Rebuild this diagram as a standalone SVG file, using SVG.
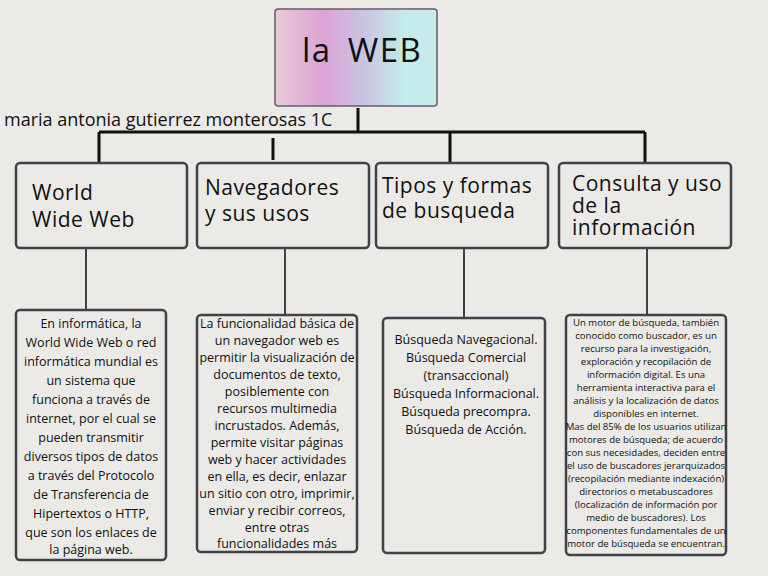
<svg xmlns="http://www.w3.org/2000/svg" width="768" height="576" viewBox="0 0 768 576">
<style>
.box{fill:#ebeae6;stroke:#3f4248;stroke-width:2.5}
.h{font-family:"Open Sans",sans-serif;font-size:21px;fill:#111;letter-spacing:0.5px}
.t{font-family:"Open Sans",sans-serif;font-size:12.5px;fill:#111;text-anchor:middle}
.s{font-family:"Open Sans",sans-serif;font-size:9.6px;fill:#111;text-anchor:middle}
.c{stroke:#111;stroke-width:3;fill:none}
.l{stroke:#3f4248;stroke-width:2;fill:none}
</style>
<defs>
<linearGradient id="g" x1="0" y1="0" x2="1" y2="0">
<stop offset="0" stop-color="#e6cbd8"/><stop offset="0.3" stop-color="#dda3d6"/><stop offset="0.55" stop-color="#c9c4e2"/><stop offset="0.8" stop-color="#c4ecea"/><stop offset="1" stop-color="#c6ecea"/>
</linearGradient>
</defs>
<rect width="768" height="576" fill="#ebeae6"/>
<g id="connectors">
<path class="c" d="M358 108V132M99 132H645M99 132V162M273 138V160M450 132V162M645 132V162"/>
<path class="l" d="M86 249V310M285 249V315M464 249V318M647 249V315"/>
</g>
<g id="title"><rect x="275" y="9" width="162" height="97" rx="3" fill="url(#g)" stroke="#6a5a6e" stroke-width="1.5"/>
<text x="302" y="62" font-family="Open Sans,sans-serif" font-size="33" fill="#111" letter-spacing="1.5" word-spacing="6">la WEB</text></g>
<g id="author"><text x="4" y="126" font-family="Open Sans,sans-serif" font-size="18" fill="#111">maria antonia gutierrez monterosas 1C</text></g>
<g id="n1"><rect class="box" x="16" y="163" width="171" height="85" rx="4"/><text class="h" x="32" y="200">World</text><text class="h" x="32" y="227">Wide Web</text></g>
<g id="n2"><rect class="box" x="197" y="163" width="172" height="85" rx="4"/><text class="h" x="205" y="195">Navegadores</text><text class="h" x="205" y="221">y sus usos</text></g>
<g id="n3"><rect class="box" x="376" y="163" width="172" height="85" rx="4"/><text class="h" x="382" y="193" font-size="18">Tipos y formas</text><text class="h" x="382" y="218" font-size="18">de busqueda</text></g>
<g id="n4"><rect class="box" x="559" y="163" width="172" height="85" rx="4"/><text class="h" x="572" y="191" font-size="16.5">Consulta y uso</text><text class="h" x="572" y="213" font-size="16.5">de la</text><text class="h" x="572" y="235" font-size="16.5">información</text></g>
<g id="d1"><rect class="box" x="16" y="310" width="150" height="250" rx="4"/>
<text class="t" x="91"><tspan x="91" y="328">En informática, la</tspan><tspan x="91" y="347">World Wide Web o red</tspan><tspan x="91" y="366">informática mundial es</tspan><tspan x="91" y="385">un sistema que</tspan><tspan x="91" y="404">funciona a través de</tspan><tspan x="91" y="423">internet, por el cual se</tspan><tspan x="91" y="442">pueden transmitir</tspan><tspan x="91" y="461">diversos tipos de datos</tspan><tspan x="91" y="480">a través del Protocolo</tspan><tspan x="91" y="499">de Transferencia de</tspan><tspan x="91" y="518">Hipertextos o HTTP,</tspan><tspan x="91" y="537">que son los enlaces de</tspan><tspan x="91" y="554">la página web.</tspan></text></g>
<g id="d2"><rect class="box" x="197" y="315" width="160" height="237" rx="4"/>
<text class="t" font-size="11.5"><tspan x="277" y="328">La funcionalidad básica de</tspan><tspan x="277" y="345">un navegador web es</tspan><tspan x="277" y="362">permitir la visualización de</tspan><tspan x="277" y="379">documentos de texto,</tspan><tspan x="277" y="396">posiblemente con</tspan><tspan x="277" y="413">recursos multimedia</tspan><tspan x="277" y="430">incrustados. Además,</tspan><tspan x="277" y="447">permite visitar páginas</tspan><tspan x="277" y="464">web y hacer actividades</tspan><tspan x="277" y="481">en ella, es decir, enlazar</tspan><tspan x="277" y="498">un sitio con otro, imprimir,</tspan><tspan x="277" y="515">enviar y recibir correos,</tspan><tspan x="277" y="532">entre otras</tspan><tspan x="277" y="548">funcionalidades más</tspan></text></g>
<g id="d3"><rect class="box" x="383" y="318" width="162" height="235" rx="4"/>
<text class="t"><tspan x="466" y="344">Búsqueda Navegacional.</tspan><tspan x="466" y="362">Búsqueda Comercial</tspan><tspan x="466" y="380">(transaccional)</tspan><tspan x="466" y="398">Búsqueda Informacional.</tspan><tspan x="466" y="416">Búsqueda precompra.</tspan><tspan x="466" y="434">Búsqueda de Acción.</tspan></text></g>
<g id="d4"><rect class="box" x="566" y="315" width="160" height="240" rx="4"/>
<text class="s"><tspan x="646" y="326">Un motor de búsqueda, también</tspan><tspan x="646" y="339">conocido como buscador, es un</tspan><tspan x="646" y="352">recurso para la investigación,</tspan><tspan x="646" y="365">exploración y recopilación de</tspan><tspan x="646" y="378">información digital. Es una</tspan><tspan x="646" y="391">herramienta interactiva para el</tspan><tspan x="646" y="404">análisis y la localización de datos</tspan><tspan x="646" y="417">disponibles en internet.</tspan><tspan x="646" y="430">Mas del 85% de los usuarios utilizan</tspan><tspan x="646" y="443">motores de búsqueda; de acuerdo</tspan><tspan x="646" y="456">con sus necesidades, deciden entre</tspan><tspan x="646" y="469">el uso de buscadores jerarquizados</tspan><tspan x="646" y="482">(recopilación mediante indexación)</tspan><tspan x="646" y="495">directorios o metabuscadores</tspan><tspan x="646" y="508">(localización de información por</tspan><tspan x="646" y="521">medio de buscadores). Los</tspan><tspan x="646" y="534">componentes fundamentales de un</tspan><tspan x="646" y="547">motor de búsqueda se encuentran.</tspan></text></g>
</svg>
